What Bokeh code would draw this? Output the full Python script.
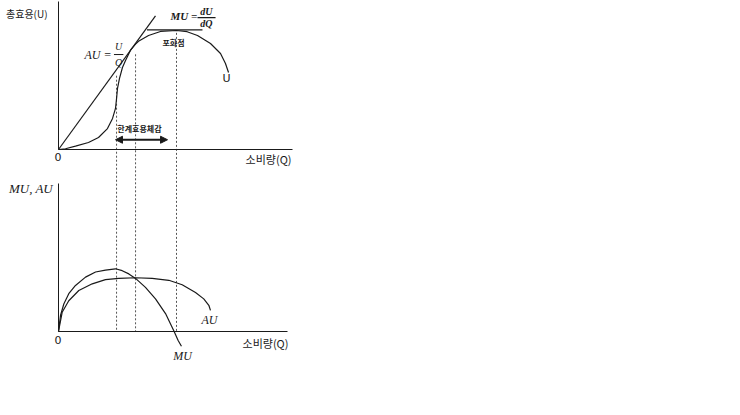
from bokeh.plotting import figure
from bokeh.models import Range1d, LinearAxis, FixedTicker, Arrow, NormalHead
from bokeh.core.properties import value
from bokeh.embed import file_html
from bokeh.resources import INLINE

# ---------------- data ----------------
# total utility curve U(Q)
u_q = [0, 0.59, 1.44, 2.54, 3.39, 4.15, 4.58, 4.83, 4.92, 5.0, 5.17, 5.42, 5.68,
       6.1, 6.53, 6.78, 7.63, 8.64, 10.0, 10.9, 11.78, 12.88, 13.73, 14.15, 14.41]
u_val = [0, 0.6, 2.8, 5.9, 10.1, 17.6, 26.1, 34.5, 42.9, 51.3, 59.7, 68.9, 74.8,
         83.5, 88.5, 91.0, 95.8, 99.2, 100.0, 99.0, 95.8, 89.1, 80.7, 72.3, 64.7]
# ray from origin (AU = U/Q tangent)
ray_q = [0, 8.22]
ray_u = [0, 112.3]
# horizontal tangent at saturation point (MU = dU/dQ = 0)
sat_q = [7.5, 12.2]
sat_u = 100.6
# marginal utility MU(Q)
mu_q = [0, 0.17, 0.45, 0.87, 1.44, 2.29, 3.14, 3.98, 4.83, 5.4, 5.96, 6.53,
        7.37, 8.22, 9.07, 9.8, 10.14, 10.42]
mu_v = [0, 2.5, 4.3, 5.9, 7.2, 8.5, 9.3, 9.6, 9.8, 9.5, 9.0, 8.3,
        6.9, 5.1, 2.8, 0.0, -1.4, -2.3]
# average utility AU(Q)
au_q = [0, 0.31, 0.87, 1.72, 2.86, 3.98, 5.11, 6.53, 7.94, 9.35, 10.48, 11.61,
        12.31, 12.74, 12.88]
au_v = [0, 3.0, 4.8, 6.4, 7.45, 8.1, 8.3, 8.4, 8.3, 8.0, 7.3, 6.1,
        5.1, 4.1, 3.3]
# vertical guide lines (inflection, AU max, saturation)
guide_q = [4.92, 6.53, 10.0]
guide_top_u = [62, 80, 98]
# diminishing marginal utility arrow
arrow_q = [4.83, 9.24]
arrow_u = 8.2
# axis extents
top_q_end, top_u_end = 19.8, 124.0
bot_q_end, bot_v_end = 19.4, 23.1

# ---------------- layout ----------------
W, H = 732, 407
PX_Q, PX_U, PX_V = 11.8, 1.19, 6.4
ORIGIN_PX, TOP_ZERO_PX, BOT_ZERO_PX = 58, 149, 331
x_start = -ORIGIN_PX / PX_Q
x_end = x_start + W / PX_Q
u_end = TOP_ZERO_PX / PX_U
u_start = u_end - H / PX_U
v_end = BOT_ZERO_PX / PX_V
v_start = v_end - H / PX_V
u_at_bottom_axis = -(BOT_ZERO_PX - TOP_ZERO_PX) / PX_U

p = figure(width=W, height=H, output_backend="svg", toolbar_location=None,
           x_range=Range1d(x_start, x_end), y_range=Range1d(u_start, u_end),
           x_axis_location=None, y_axis_location=None, min_border=0)
p.extra_y_ranges = {"mv": Range1d(v_start, v_end)}
p.grid.visible = False
p.outline_line_color = None
p.background_fill_color = "white"
p.border_fill_color = "white"

INK = "#1a1a1a"


def make_axis(rng_name, bounds):
    ax = LinearAxis(fixed_location=0, bounds=bounds, ticker=FixedTicker(ticks=[]),
                    y_range_name=rng_name,
                    axis_line_color=INK, axis_line_width=1,
                    major_tick_line_color=None, minor_tick_line_color=None,
                    major_label_text_font_size="0px")
    return ax


p.add_layout(make_axis("default", (0, top_q_end)), "below")
p.add_layout(make_axis("default", (0, top_u_end)), "left")
p.add_layout(make_axis("mv", (0, bot_q_end)), "below")
p.add_layout(make_axis("mv", (0, bot_v_end)), "left")

# guide lines (dotted), spanning both panels
p.segment(x0=guide_q, y0=guide_top_u, x1=guide_q, y1=[u_at_bottom_axis] * len(guide_q),
          line_color="#555555", line_width=1, line_dash="2 2")

# top panel
p.line(u_q, u_val, line_color=INK, line_width=1.2)
p.line(ray_q, ray_u, line_color=INK, line_width=1.2)
p.line(sat_q, [sat_u, sat_u], line_color=INK, line_width=1.2)

# bottom panel
p.line(mu_q, mu_v, line_color=INK, line_width=1.2, y_range_name="mv")
p.line(au_q, au_v, line_color=INK, line_width=1.2, y_range_name="mv")

# arrow
p.add_layout(Arrow(start=NormalHead(size=7, fill_color=INK, line_color=INK),
                   end=NormalHead(size=7, fill_color=INK, line_color=INK),
                   x_start=arrow_q[0], y_start=arrow_u, x_end=arrow_q[1], y_end=arrow_u,
                   line_color=INK, line_width=2))


def txt(x, y, s, size, font="Noto Sans CJK KR", style="normal", align="center",
        rng="default", color=INK):
    p.text(x=[x], y=[y], text=[s], text_font=value(font), text_font_size=size,
           text_font_style=style, text_align=align, text_baseline="middle",
           text_color=color, y_range_name=rng)


SERIF = "Liberation Serif"
# top panel texts
txt(-4.45, 114.5, "총효용(U)", "10px", align="left")
txt(-0.04, -6.7, "0", "11px", font="DejaVu Sans")
txt(19.75, -8.4, "소비량(Q)", "11px", align="right")
txt(4.5, 79.8, "AU =", "12px", font=SERIF, style="italic", align="right")
txt(5.1, 86.2, "U", "10px", font=SERIF, style="italic")
p.segment(x0=[4.7], y0=[79.8], x1=[5.5], y1=[79.8], line_color=INK, line_width=1)
txt(5.1, 73.4, "Q", "10px", font=SERIF, style="italic")
txt(9.49, 112.6, "MU =", "11px", font=SERIF, style="bold italic", align="left")
txt(12.54, 116.3, "dU", "10px", font=SERIF, style="bold italic")
p.segment(x0=[11.78], y0=[110.9], x1=[13.31], y1=[110.9], line_color=INK, line_width=1.2)
txt(12.54, 105.6, "dQ", "10px", font=SERIF, style="bold italic")
txt(9.75, 89.9, "포화점", "8px", style="bold")
txt(14.24, 59.7, "U", "11px", font="DejaVu Sans")
txt(6.86, 17.6, "한계효용체감", "8px", style="bold")

# bottom panel texts
txt(-4.2, 22.3, "MU, AU", "13px", font=SERIF, style="italic", align="left", rng="mv")
txt(-0.04, -1.25, "0", "11px", font="DejaVu Sans", rng="mv")
txt(19.49, -1.72, "소비량(Q)", "11px", align="right", rng="mv")
txt(12.8, 1.72, "AU", "12px", font=SERIF, style="italic", rng="mv")
txt(10.51, -3.9, "MU", "12px", font=SERIF, style="italic", rng="mv")

open("out.html", "w").write(file_html(p, INLINE))
